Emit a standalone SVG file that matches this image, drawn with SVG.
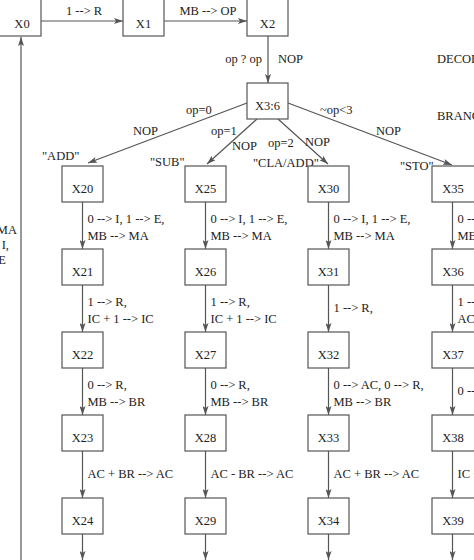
<svg xmlns="http://www.w3.org/2000/svg" width="474" height="560" viewBox="0 0 474 560">
<defs>
<marker id="arr" markerWidth="10" markerHeight="6" refX="9" refY="3" orient="auto" markerUnits="userSpaceOnUse">
<path d="M0,0 L9,3 L0,6 L2,3 z" fill="#555"/>
</marker>
<style>
text{font-family:"Liberation Serif","Times New Roman",serif;font-size:12.5px;fill:#222}
.n rect{fill:#fff;stroke:#555;stroke-width:1.2}
.n text{text-anchor:middle}
.c line,.c polyline{stroke:#555;stroke-width:1.2;fill:none;marker-end:url(#arr)}
.m{text-anchor:middle}
.e{text-anchor:end}
</style>
</defs>
<rect width="474" height="560" fill="#fff"/>
<g class="c" id="connectors">
<line x1="41" y1="21" x2="123" y2="21"/>
<line x1="164" y1="21" x2="247" y2="21"/>
<line x1="268" y1="36" x2="268" y2="83"/>
<line x1="247" y1="103" x2="88" y2="163"/>
<line x1="257" y1="119" x2="207" y2="164"/>
<line x1="278" y1="119" x2="328" y2="164"/>
<line x1="288" y1="103" x2="452" y2="165"/>
<line x1="21" y1="560" x2="21" y2="37"/>
<line x1="82.5" y1="202" x2="82.5" y2="249"/>
<line x1="82.5" y1="285" x2="82.5" y2="332"/>
<line x1="82.5" y1="368" x2="82.5" y2="415"/>
<line x1="82.5" y1="451" x2="82.5" y2="498"/>
<line x1="82.5" y1="534" x2="82.5" y2="560"/>
<line x1="205.5" y1="202" x2="205.5" y2="249"/>
<line x1="205.5" y1="285" x2="205.5" y2="332"/>
<line x1="205.5" y1="368" x2="205.5" y2="415"/>
<line x1="205.5" y1="451" x2="205.5" y2="498"/>
<line x1="205.5" y1="534" x2="205.5" y2="560"/>
<line x1="328.5" y1="202" x2="328.5" y2="249"/>
<line x1="328.5" y1="285" x2="328.5" y2="332"/>
<line x1="328.5" y1="368" x2="328.5" y2="415"/>
<line x1="328.5" y1="451" x2="328.5" y2="498"/>
<line x1="328.5" y1="534" x2="328.5" y2="560"/>
<line x1="452.5" y1="202" x2="452.5" y2="249"/>
<line x1="452.5" y1="285" x2="452.5" y2="332"/>
<line x1="452.5" y1="368" x2="452.5" y2="415"/>
<line x1="452.5" y1="451" x2="452.5" y2="498"/>
<line x1="452.5" y1="534" x2="452.5" y2="560"/>
</g>
<g id="labels">
<text x="84" y="15" class="m">1 --&gt; R</text>
<text x="208" y="15" class="m">MB --&gt; OP</text>
<text x="262" y="63" class="e">op ? op</text>
<text x="278" y="63">NOP</text>
<text x="437" y="63">DECODE</text>
<text x="437" y="120">BRANCH</text>
<text x="186" y="114">op=0</text>
<text x="320" y="114">~op&lt;3</text>
<text x="133" y="135">NOP</text>
<text x="211" y="135">op=1</text>
<text x="232" y="150">NOP</text>
<text x="268" y="147">op=2</text>
<text x="305" y="146">NOP</text>
<text x="376" y="135">NOP</text>
<text x="42" y="160">"ADD"</text>
<text x="150" y="166">"SUB"</text>
<text x="253" y="167">"CLA/ADD"</text>
<text x="400" y="170">"STO"</text>
<text x="17" y="234" class="e">MB --&gt; MA</text>
<text x="9" y="249" class="e">1 --&gt; I,</text>
<text x="6" y="264" class="e">0 --&gt; E</text>
<text x="87.5" y="223">0 --&gt; I, 1 --&gt; E,</text>
<text x="87.5" y="240">MB --&gt; MA</text>
<text x="87.5" y="306">1 --&gt; R,</text>
<text x="87.5" y="323">IC + 1 --&gt; IC</text>
<text x="87.5" y="389">0 --&gt; R,</text>
<text x="87.5" y="406">MB --&gt; BR</text>
<text x="87.5" y="478">AC + BR --&gt; AC</text>
<text x="210.5" y="223">0 --&gt; I, 1 --&gt; E,</text>
<text x="210.5" y="240">MB --&gt; MA</text>
<text x="210.5" y="306">1 --&gt; R,</text>
<text x="210.5" y="323">IC + 1 --&gt; IC</text>
<text x="210.5" y="389">0 --&gt; R,</text>
<text x="210.5" y="406">MB --&gt; BR</text>
<text x="210.5" y="478">AC - BR --&gt; AC</text>
<text x="333.5" y="223">0 --&gt; I, 1 --&gt; E,</text>
<text x="333.5" y="240">MB --&gt; MA</text>
<text x="333.5" y="312">1 --&gt; R,</text>
<text x="333.5" y="389">0 --&gt; AC, 0 --&gt; R,</text>
<text x="333.5" y="406">MB --&gt; BR</text>
<text x="333.5" y="478">AC + BR --&gt; AC</text>
<text x="457.5" y="223">0 --&gt; I, 1 --&gt; E,</text>
<text x="457.5" y="240">MB --&gt; MA</text>
<text x="457.5" y="306">1 --&gt; R,</text>
<text x="457.5" y="323">AC --&gt; MB</text>
<text x="457.5" y="395">0 --&gt; R,</text>
<text x="457.5" y="478">IC + 1 --&gt; IC</text>
</g>
<g class="n" id="X0"><rect x="-2" y="-1" width="43" height="37"/><text x="22" y="28">X0</text></g>
<g class="n" id="X1"><rect x="123" y="-1" width="41" height="37"/><text x="143.5" y="28">X1</text></g>
<g class="n" id="X2"><rect x="247" y="-1" width="41" height="37"/><text x="267.5" y="28">X2</text></g>
<g class="n" id="X3_6"><rect x="247" y="83" width="41" height="36"/><text x="267.5" y="110">X3:6</text></g>
<g class="n" id="X20"><rect x="62" y="166" width="41" height="36"/><text x="82.5" y="193">X20</text></g>
<g class="n" id="X21"><rect x="62" y="249" width="41" height="36"/><text x="82.5" y="276">X21</text></g>
<g class="n" id="X22"><rect x="62" y="332" width="41" height="36"/><text x="82.5" y="359">X22</text></g>
<g class="n" id="X23"><rect x="62" y="415" width="41" height="36"/><text x="82.5" y="442">X23</text></g>
<g class="n" id="X24"><rect x="62" y="498" width="41" height="36"/><text x="82.5" y="525">X24</text></g>
<g class="n" id="X25"><rect x="185" y="166" width="41" height="36"/><text x="205.5" y="193">X25</text></g>
<g class="n" id="X26"><rect x="185" y="249" width="41" height="36"/><text x="205.5" y="276">X26</text></g>
<g class="n" id="X27"><rect x="185" y="332" width="41" height="36"/><text x="205.5" y="359">X27</text></g>
<g class="n" id="X28"><rect x="185" y="415" width="41" height="36"/><text x="205.5" y="442">X28</text></g>
<g class="n" id="X29"><rect x="185" y="498" width="41" height="36"/><text x="205.5" y="525">X29</text></g>
<g class="n" id="X30"><rect x="308" y="166" width="41" height="36"/><text x="328.5" y="193">X30</text></g>
<g class="n" id="X31"><rect x="308" y="249" width="41" height="36"/><text x="328.5" y="276">X31</text></g>
<g class="n" id="X32"><rect x="308" y="332" width="41" height="36"/><text x="328.5" y="359">X32</text></g>
<g class="n" id="X33"><rect x="308" y="415" width="41" height="36"/><text x="328.5" y="442">X33</text></g>
<g class="n" id="X34"><rect x="308" y="498" width="41" height="36"/><text x="328.5" y="525">X34</text></g>
<g class="n" id="X35"><rect x="432" y="166" width="43" height="36"/><text x="453" y="193">X35</text></g>
<g class="n" id="X36"><rect x="432" y="249" width="43" height="36"/><text x="453" y="276">X36</text></g>
<g class="n" id="X37"><rect x="432" y="332" width="43" height="36"/><text x="453" y="359">X37</text></g>
<g class="n" id="X38"><rect x="432" y="415" width="43" height="36"/><text x="453" y="442">X38</text></g>
<g class="n" id="X39"><rect x="432" y="498" width="43" height="36"/><text x="453" y="525">X39</text></g>
</svg>
